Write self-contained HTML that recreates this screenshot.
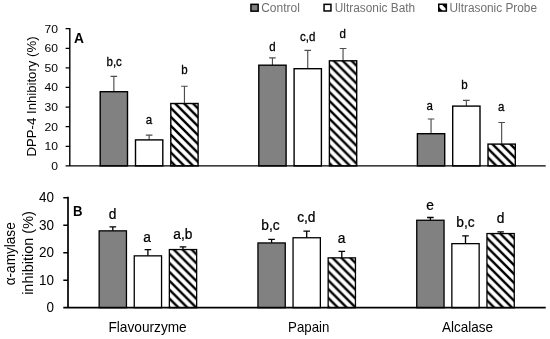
<!DOCTYPE html>
<html lang="en"><head><meta charset="utf-8"><title>Chart</title>
<style>html,body{margin:0;padding:0;background:#fff;overflow:hidden}svg{display:block}text{font-family:"Liberation Sans", sans-serif}</style>
</head><body>
<svg width="550" height="339" viewBox="0 0 550 339">
<defs>
<pattern id="hatch" patternUnits="userSpaceOnUse" x="0" y="4.45" width="8.9" height="8.9">
<rect x="0" y="0" width="8.9" height="8.9" fill="#fff"/>
<path d="M-8.9 -8.9 L17.8 17.8 M0 -8.9 L17.8 8.9 M-8.9 0 L8.9 17.8" stroke="#000" stroke-width="2.4" stroke-linecap="square"/>
</pattern>
</defs>
<rect width="550" height="339" fill="#fff"/>
<path d="M113.85 91.5 V76.4 M110.55 76.4 H117.15" stroke="#4d4d4d" stroke-width="1.15" fill="none"/>
<rect transform="translate(99.5 91)" x="0.7" y="0.7" width="27.3" height="74.2" fill="#818181" stroke="#000" stroke-width="1.4"/>
<path d="M149.15 139.7 V135.1 M145.85 135.1 H152.45" stroke="#4d4d4d" stroke-width="1.15" fill="none"/>
<rect transform="translate(134.8 139.2)" x="0.7" y="0.7" width="27.3" height="26" fill="#fff" stroke="#000" stroke-width="1.4"/>
<path d="M184.45 103.3 V86.2 M181.15 86.2 H187.75" stroke="#4d4d4d" stroke-width="1.15" fill="none"/>
<rect transform="translate(170.1 102.8)" x="0.7" y="0.7" width="27.3" height="62.4" fill="url(#hatch)" stroke="#000" stroke-width="1.4"/>
<path d="M272.45 65 V57.9 M269.15 57.9 H275.75" stroke="#4d4d4d" stroke-width="1.15" fill="none"/>
<rect transform="translate(258.1 64.5)" x="0.7" y="0.7" width="27.3" height="100.7" fill="#818181" stroke="#000" stroke-width="1.4"/>
<path d="M307.75 68.5 V50.3 M304.45 50.3 H311.05" stroke="#4d4d4d" stroke-width="1.15" fill="none"/>
<rect transform="translate(293.4 68)" x="0.7" y="0.7" width="27.3" height="97.2" fill="#fff" stroke="#000" stroke-width="1.4"/>
<path d="M343.05 60.6 V48.5 M339.75 48.5 H346.35" stroke="#4d4d4d" stroke-width="1.15" fill="none"/>
<rect transform="translate(328.7 60.1)" x="0.7" y="0.7" width="27.3" height="105.1" fill="url(#hatch)" stroke="#000" stroke-width="1.4"/>
<path d="M431.05 133.5 V119 M427.75 119 H434.35" stroke="#4d4d4d" stroke-width="1.15" fill="none"/>
<rect transform="translate(416.7 133)" x="0.7" y="0.7" width="27.3" height="32.2" fill="#818181" stroke="#000" stroke-width="1.4"/>
<path d="M466.35 105.9 V100.4 M463.05 100.4 H469.65" stroke="#4d4d4d" stroke-width="1.15" fill="none"/>
<rect transform="translate(452 105.4)" x="0.7" y="0.7" width="27.3" height="59.8" fill="#fff" stroke="#000" stroke-width="1.4"/>
<path d="M501.65 143.9 V122.5 M498.35 122.5 H504.95" stroke="#4d4d4d" stroke-width="1.15" fill="none"/>
<rect transform="translate(487.3 143.4)" x="0.7" y="0.7" width="27.3" height="21.8" fill="url(#hatch)" stroke="#000" stroke-width="1.4"/>
<path d="M69.8 27.95 V166.6 M65.6 165.9 H545.7" stroke="#000" stroke-width="1.4" fill="none"/>
<path d="M65.6 146.29 H69.8 M65.6 126.69 H69.8 M65.6 107.08 H69.8 M65.6 87.47 H69.8 M65.6 67.86 H69.8 M65.6 48.26 H69.8 M65.6 28.65 H69.8" stroke="#000" stroke-width="1.26" fill="none"/>
<text transform="translate(58 169.8) scale(1.03 1)" font-size="11.8" text-anchor="end" fill="#000">0</text>
<text transform="translate(58 150.19) scale(1.03 1)" font-size="11.8" text-anchor="end" fill="#000">10</text>
<text transform="translate(58 130.59) scale(1.03 1)" font-size="11.8" text-anchor="end" fill="#000">20</text>
<text transform="translate(58 110.98) scale(1.03 1)" font-size="11.8" text-anchor="end" fill="#000">30</text>
<text transform="translate(58 91.37) scale(1.03 1)" font-size="11.8" text-anchor="end" fill="#000">40</text>
<text transform="translate(58 71.76) scale(1.03 1)" font-size="11.8" text-anchor="end" fill="#000">50</text>
<text transform="translate(58 52.16) scale(1.03 1)" font-size="11.8" text-anchor="end" fill="#000">60</text>
<text transform="translate(58 32.55) scale(1.03 1)" font-size="11.8" text-anchor="end" fill="#000">70</text>
<text transform="translate(35.7 96.45) rotate(-90)" font-size="13.4" text-anchor="middle" fill="#000" textLength="120" lengthAdjust="spacingAndGlyphs">DPP-4 Inhibitory (%)</text>
<text transform="translate(73.9 42.5) scale(0.97 1)" font-size="14.2" text-anchor="start" fill="#000" font-weight="bold">A</text>
<text transform="translate(114.2 66.2) scale(0.92 1)" font-size="12.5" text-anchor="middle" fill="#000" stroke="#000" stroke-width="0.3">b,c</text>
<text transform="translate(148.9 123.7) scale(0.92 1)" font-size="12.5" text-anchor="middle" fill="#000" stroke="#000" stroke-width="0.3">a</text>
<text transform="translate(184.4 74.4) scale(0.92 1)" font-size="12.5" text-anchor="middle" fill="#000" stroke="#000" stroke-width="0.3">b</text>
<text transform="translate(272.5 50.8) scale(0.92 1)" font-size="12.5" text-anchor="middle" fill="#000" stroke="#000" stroke-width="0.3">d</text>
<text transform="translate(307.7 40.7) scale(0.92 1)" font-size="12.5" text-anchor="middle" fill="#000" stroke="#000" stroke-width="0.3">c,d</text>
<text transform="translate(342.6 37.9) scale(0.92 1)" font-size="12.5" text-anchor="middle" fill="#000" stroke="#000" stroke-width="0.3">d</text>
<text transform="translate(429.7 110.2) scale(0.92 1)" font-size="12.5" text-anchor="middle" fill="#000" stroke="#000" stroke-width="0.3">a</text>
<text transform="translate(464.5 89.2) scale(0.92 1)" font-size="12.5" text-anchor="middle" fill="#000" stroke="#000" stroke-width="0.3">b</text>
<text transform="translate(501.2 111.2) scale(0.92 1)" font-size="12.5" text-anchor="middle" fill="#000" stroke="#000" stroke-width="0.3">a</text>
<path d="M112.8 230.7 V226.8 M109.5 226.8 H116.1" stroke="#000" stroke-width="1.3" fill="none"/>
<rect transform="translate(98.5 230.2)" x="0.65" y="0.65" width="27.3" height="76.85" fill="#818181" stroke="#000" stroke-width="1.3"/>
<path d="M147.9 255.7 V249.7 M144.6 249.7 H151.2" stroke="#000" stroke-width="1.3" fill="none"/>
<rect transform="translate(133.6 255.2)" x="0.65" y="0.65" width="27.3" height="51.85" fill="#fff" stroke="#000" stroke-width="1.3"/>
<path d="M183 249.4 V246.9 M179.7 246.9 H186.3" stroke="#000" stroke-width="1.3" fill="none"/>
<rect transform="translate(168.7 248.9)" x="0.65" y="0.65" width="27.3" height="58.15" fill="url(#hatch)" stroke="#000" stroke-width="1.3"/>
<path d="M271.6 242.8 V239.3 M268.3 239.3 H274.9" stroke="#000" stroke-width="1.3" fill="none"/>
<rect transform="translate(257.3 242.3)" x="0.65" y="0.65" width="27.3" height="64.75" fill="#818181" stroke="#000" stroke-width="1.3"/>
<path d="M306.7 237.6 V231.2 M303.4 231.2 H310" stroke="#000" stroke-width="1.3" fill="none"/>
<rect transform="translate(292.4 237.1)" x="0.65" y="0.65" width="27.3" height="69.95" fill="#fff" stroke="#000" stroke-width="1.3"/>
<path d="M341.8 257.7 V251.3 M338.5 251.3 H345.1" stroke="#000" stroke-width="1.3" fill="none"/>
<rect transform="translate(327.5 257.2)" x="0.65" y="0.65" width="27.3" height="49.85" fill="url(#hatch)" stroke="#000" stroke-width="1.3"/>
<path d="M430.4 220.1 V217.5 M427.1 217.5 H433.7" stroke="#000" stroke-width="1.3" fill="none"/>
<rect transform="translate(416.1 219.6)" x="0.65" y="0.65" width="27.3" height="87.45" fill="#818181" stroke="#000" stroke-width="1.3"/>
<path d="M465.5 243.5 V235.8 M462.2 235.8 H468.8" stroke="#000" stroke-width="1.3" fill="none"/>
<rect transform="translate(451.2 243)" x="0.65" y="0.65" width="27.3" height="64.05" fill="#fff" stroke="#000" stroke-width="1.3"/>
<path d="M500.6 233.4 V231.9 M497.3 231.9 H503.9" stroke="#000" stroke-width="1.3" fill="none"/>
<rect transform="translate(486.3 232.9)" x="0.65" y="0.65" width="27.3" height="74.15" fill="url(#hatch)" stroke="#000" stroke-width="1.3"/>
<path d="M68 196.85 V308.55 M63.3 307.7 H545.7" stroke="#000" stroke-width="1.7" fill="none"/>
<path d="M63.3 280.2 H68 M63.3 252.7 H68 M63.3 225.2 H68 M63.3 197.7 H68" stroke="#000" stroke-width="1.53" fill="none"/>
<text transform="translate(53.9 312.4) scale(0.95 1)" font-size="14.2" text-anchor="end" fill="#000">0</text>
<text transform="translate(53.9 284.9) scale(0.95 1)" font-size="14.2" text-anchor="end" fill="#000">10</text>
<text transform="translate(53.9 257.4) scale(0.95 1)" font-size="14.2" text-anchor="end" fill="#000">20</text>
<text transform="translate(53.9 229.9) scale(0.95 1)" font-size="14.2" text-anchor="end" fill="#000">30</text>
<text transform="translate(53.9 202.4) scale(0.95 1)" font-size="14.2" text-anchor="end" fill="#000">40</text>
<text transform="translate(14.5 253.8) rotate(-90)" font-size="15" text-anchor="middle" fill="#000" textLength="63.1" lengthAdjust="spacingAndGlyphs">α-amylase</text>
<text transform="translate(32.9 253) rotate(-90)" font-size="15" text-anchor="middle" fill="#000" textLength="83.7" lengthAdjust="spacingAndGlyphs">inhibition (%)</text>
<text transform="translate(73 215.7) scale(0.86 1)" font-size="15.3" text-anchor="start" fill="#000" font-weight="bold">B</text>
<text transform="translate(112.6 218.5) scale(0.97 1)" font-size="14.2" text-anchor="middle" fill="#000" stroke="#000" stroke-width="0.25">d</text>
<text transform="translate(147.2 241.5) scale(0.97 1)" font-size="14.2" text-anchor="middle" fill="#000" stroke="#000" stroke-width="0.25">a</text>
<text transform="translate(182.8 238.5) scale(0.97 1)" font-size="14.2" text-anchor="middle" fill="#000" stroke="#000" stroke-width="0.25">a,b</text>
<text transform="translate(270.5 229.9) scale(0.97 1)" font-size="14.2" text-anchor="middle" fill="#000" stroke="#000" stroke-width="0.25">b,c</text>
<text transform="translate(306.3 222.1) scale(0.97 1)" font-size="14.2" text-anchor="middle" fill="#000" stroke="#000" stroke-width="0.25">c,d</text>
<text transform="translate(341.7 243.1) scale(0.97 1)" font-size="14.2" text-anchor="middle" fill="#000" stroke="#000" stroke-width="0.25">a</text>
<text transform="translate(430.2 209.7) scale(0.97 1)" font-size="14.2" text-anchor="middle" fill="#000" stroke="#000" stroke-width="0.25">e</text>
<text transform="translate(465.5 227.2) scale(0.97 1)" font-size="14.2" text-anchor="middle" fill="#000" stroke="#000" stroke-width="0.25">b,c</text>
<text transform="translate(500.6 222.7) scale(0.97 1)" font-size="14.2" text-anchor="middle" fill="#000" stroke="#000" stroke-width="0.25">d</text>
<text x="147.6" y="331.7" font-size="14.8" text-anchor="middle" fill="#000" textLength="78.3" lengthAdjust="spacingAndGlyphs">Flavourzyme</text>
<text x="308.7" y="331.7" font-size="14.8" text-anchor="middle" fill="#000" textLength="41.3" lengthAdjust="spacingAndGlyphs">Papain</text>
<text x="467.5" y="331.7" font-size="14.8" text-anchor="middle" fill="#000" textLength="51.1" lengthAdjust="spacingAndGlyphs">Alcalase</text>
<rect transform="translate(250.2 3.6)" x="0.75" y="0.75" width="7.2" height="6.8" fill="#818181" stroke="#000" stroke-width="1.5"/>
<rect transform="translate(323.3 3.6)" x="0.75" y="0.75" width="6.9" height="6.6" fill="#fff" stroke="#000" stroke-width="1.5"/>
<rect transform="translate(438 3.5)" x="0.75" y="0.75" width="7.6" height="6.8" fill="url(#hatch)" stroke="#000" stroke-width="1.5"/>
<text x="261.2" y="11.5" font-size="12" fill="#707070" textLength="38.7" lengthAdjust="spacingAndGlyphs">Control</text>
<text x="334.7" y="11.5" font-size="12" fill="#707070" textLength="80.5" lengthAdjust="spacingAndGlyphs">Ultrasonic Bath</text>
<text x="449.5" y="11.5" font-size="12" fill="#707070" textLength="87.5" lengthAdjust="spacingAndGlyphs">Ultrasonic Probe</text>
</svg>
</body></html>
